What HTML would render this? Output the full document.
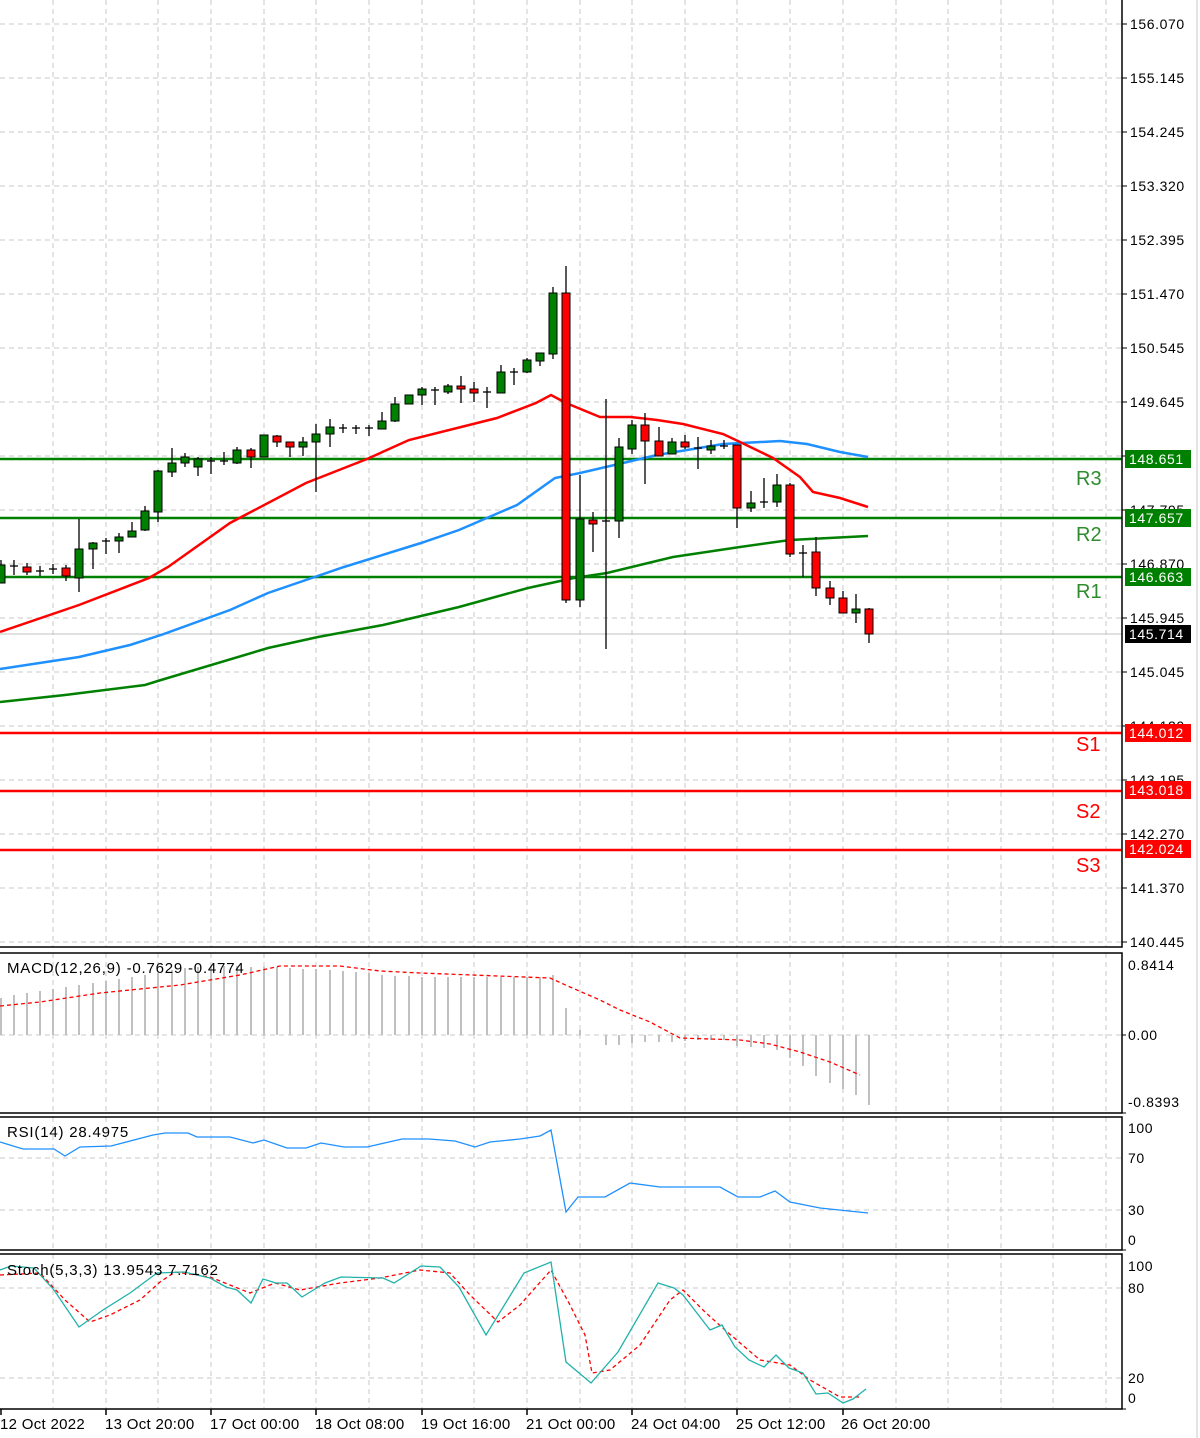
<!DOCTYPE html>
<html><head><meta charset="utf-8"><style>
html,body{margin:0;padding:0;background:#fff;}
svg{display:block;}
text{font-family:"Liberation Sans",sans-serif;font-size:14px;letter-spacing:0.6px;fill:#000;}
.g{stroke:#c8c8c8;stroke-width:1;stroke-dasharray:5,4;fill:none}
.w{stroke:#000;stroke-width:1.3}
.up{fill:#008000;stroke:#000;stroke-width:1}
.dn{fill:#ff0000;stroke:#000;stroke-width:1}
</style></head><body>
<svg width="1200" height="1438" viewBox="0 0 1200 1438" xmlns="http://www.w3.org/2000/svg">
<rect width="1200" height="1438" fill="#fff"/>
<g class="g">
<path d="M53,0V947M106,0V947M158,0V947M211,0V947M264,0V947M316,0V947M369,0V947M422,0V947M474,0V947M527,0V947M580,0V947M632,0V947M685,0V947M737,0V947M790,0V947M843,0V947M896,0V947M948,0V947M1001,0V947M1053,0V947M1106,0V947"/>
<path d="M53,953V1113M106,953V1113M158,953V1113M211,953V1113M264,953V1113M316,953V1113M369,953V1113M422,953V1113M474,953V1113M527,953V1113M580,953V1113M632,953V1113M685,953V1113M737,953V1113M790,953V1113M843,953V1113M896,953V1113M948,953V1113M1001,953V1113M1053,953V1113M1106,953V1113"/>
<path d="M53,1117V1250M106,1117V1250M158,1117V1250M211,1117V1250M264,1117V1250M316,1117V1250M369,1117V1250M422,1117V1250M474,1117V1250M527,1117V1250M580,1117V1250M632,1117V1250M685,1117V1250M737,1117V1250M790,1117V1250M843,1117V1250M896,1117V1250M948,1117V1250M1001,1117V1250M1053,1117V1250M1106,1117V1250"/>
<path d="M53,1254V1408M106,1254V1408M158,1254V1408M211,1254V1408M264,1254V1408M316,1254V1408M369,1254V1408M422,1254V1408M474,1254V1408M527,1254V1408M580,1254V1408M632,1254V1408M685,1254V1408M737,1254V1408M790,1254V1408M843,1254V1408M896,1254V1408M948,1254V1408M1001,1254V1408M1053,1254V1408M1106,1254V1408"/>
<path d="M0,24H1122M0,78H1122M0,132H1122M0,186H1122M0,240H1122M0,294H1122M0,348H1122M0,402H1122M0,456H1122M0,510H1122M0,564H1122M0,618H1122M0,672H1122M0,726H1122M0,780H1122M0,834H1122M0,888H1122M0,942H1122"/>
<path d="M0,1035H1122M0,1158H1122M0,1210H1122M0,1288H1122M0,1378H1122"/>
</g>
<line x1="0" y1="634" x2="1122" y2="634" stroke="#c0c0c0" stroke-width="1"/>
<g stroke-width="2.5">
<line x1="0" y1="459" x2="1122" y2="459" stroke="#008000"/>
<line x1="0" y1="518" x2="1122" y2="518" stroke="#008000"/>
<line x1="0" y1="577" x2="1122" y2="577" stroke="#008000"/>
<line x1="0" y1="733" x2="1122" y2="733" stroke="#ff0000"/>
<line x1="0" y1="791" x2="1122" y2="791" stroke="#ff0000"/>
<line x1="0" y1="850" x2="1122" y2="850" stroke="#ff0000"/>
</g>
<text x="1076" y="485" style="fill:#2e8b2e;font-size:20px;letter-spacing:0">R3</text>
<text x="1076" y="541" style="fill:#2e8b2e;font-size:20px;letter-spacing:0">R2</text>
<text x="1076" y="598" style="fill:#2e8b2e;font-size:20px;letter-spacing:0">R1</text>
<text x="1076" y="751" style="fill:#ff0000;font-size:20px;letter-spacing:0">S1</text>
<text x="1076" y="818" style="fill:#ff0000;font-size:20px;letter-spacing:0">S2</text>
<text x="1076" y="872" style="fill:#ff0000;font-size:20px;letter-spacing:0">S3</text>
<polyline fill="none" stroke="#008000" stroke-width="2.5" points="0,702 65,695 145,685 161,680 268,648 318,637 383,625 459,607 528,588 574,578 607,573 673,557 740,547 790,540 868,536"/>
<polyline fill="none" stroke="#1e90ff" stroke-width="2.5" points="0,669 79,657 130,645 161,635 230,610 268,593 344,567 421,543 459,530 517,505 555,478 580,473 623,463 657,455 723,444 780,441 807,444 840,452 868,457"/>
<polyline fill="none" stroke="#ff0000" stroke-width="2.5" points="0,632 79,605 149,578 168,567 230,523 306,483 367,459 409,440 497,418 536,403 551,395 566,403 600,417 631,417 657,420 683,424 723,434 740,442 773,458 800,477 813,492 840,498 868,507"/>
<g>
<line class="w" x1="1" y1="560" x2="1" y2="583"/><rect class="up" x="-3" y="565" width="8" height="18"/>
<line class="w" x1="14" y1="560" x2="14" y2="575"/><line class="w" x1="10" y1="566" x2="18" y2="566"/>
<line class="w" x1="27" y1="563" x2="27" y2="575"/><rect class="dn" x="23" y="567" width="8" height="5"/>
<line class="w" x1="40" y1="566" x2="40" y2="576"/><line class="w" x1="36" y1="571" x2="44" y2="571"/>
<line class="w" x1="53" y1="564" x2="53" y2="574"/><line class="w" x1="49" y1="569" x2="57" y2="569"/>
<line class="w" x1="66" y1="565" x2="66" y2="581"/><rect class="dn" x="62" y="568" width="8" height="8"/>
<line class="w" x1="79" y1="519" x2="79" y2="592"/><rect class="up" x="75" y="549" width="8" height="29"/>
<line class="w" x1="93" y1="542" x2="93" y2="569"/><rect class="up" x="89" y="543" width="8" height="6"/>
<line class="w" x1="106" y1="538" x2="106" y2="554"/><line class="w" x1="102" y1="541" x2="110" y2="541"/>
<line class="w" x1="119" y1="533" x2="119" y2="553"/><rect class="up" x="115" y="537" width="8" height="4"/>
<line class="w" x1="132" y1="522" x2="132" y2="537"/><rect class="up" x="128" y="531" width="8" height="6"/>
<line class="w" x1="145" y1="506" x2="145" y2="531"/><rect class="up" x="141" y="511" width="8" height="19"/>
<line class="w" x1="158" y1="470" x2="158" y2="522"/><rect class="up" x="154" y="471" width="8" height="41"/>
<line class="w" x1="172" y1="448" x2="172" y2="477"/><rect class="up" x="168" y="463" width="8" height="9"/>
<line class="w" x1="185" y1="453" x2="185" y2="467"/><rect class="up" x="181" y="457" width="8" height="6"/>
<line class="w" x1="198" y1="457" x2="198" y2="476"/><rect class="up" x="194" y="459" width="8" height="8"/>
<line class="w" x1="211" y1="457" x2="211" y2="474"/><line class="w" x1="207" y1="461" x2="215" y2="461"/>
<line class="w" x1="224" y1="452" x2="224" y2="465"/><line class="w" x1="220" y1="461" x2="228" y2="461"/>
<line class="w" x1="237" y1="447" x2="237" y2="464"/><rect class="up" x="233" y="450" width="8" height="13"/>
<line class="w" x1="251" y1="448" x2="251" y2="468"/><rect class="dn" x="247" y="450" width="8" height="7"/>
<line class="w" x1="264" y1="435" x2="264" y2="457"/><rect class="up" x="260" y="435" width="8" height="22"/>
<line class="w" x1="277" y1="435" x2="277" y2="447"/><rect class="dn" x="273" y="436" width="8" height="6"/>
<line class="w" x1="290" y1="442" x2="290" y2="457"/><rect class="dn" x="286" y="442" width="8" height="5"/>
<line class="w" x1="303" y1="437" x2="303" y2="456"/><rect class="up" x="299" y="442" width="8" height="5"/>
<line class="w" x1="316" y1="424" x2="316" y2="492"/><rect class="up" x="312" y="434" width="8" height="8"/>
<line class="w" x1="330" y1="419" x2="330" y2="447"/><rect class="up" x="326" y="427" width="8" height="7"/>
<line class="w" x1="343" y1="424" x2="343" y2="433"/><line class="w" x1="339" y1="428" x2="347" y2="428"/>
<line class="w" x1="356" y1="425" x2="356" y2="434"/><line class="w" x1="352" y1="428" x2="360" y2="428"/>
<line class="w" x1="369" y1="425" x2="369" y2="436"/><line class="w" x1="365" y1="428" x2="373" y2="428"/>
<line class="w" x1="382" y1="412" x2="382" y2="429"/><rect class="up" x="378" y="421" width="8" height="8"/>
<line class="w" x1="395" y1="397" x2="395" y2="422"/><rect class="up" x="391" y="404" width="8" height="17"/>
<line class="w" x1="409" y1="395" x2="409" y2="404"/><rect class="up" x="405" y="395" width="8" height="9"/>
<line class="w" x1="422" y1="387" x2="422" y2="405"/><rect class="up" x="418" y="389" width="8" height="6"/>
<line class="w" x1="435" y1="387" x2="435" y2="405"/><line class="w" x1="431" y1="390" x2="439" y2="390"/>
<line class="w" x1="448" y1="384" x2="448" y2="394"/><rect class="up" x="444" y="386" width="8" height="6"/>
<line class="w" x1="461" y1="376" x2="461" y2="403"/><rect class="dn" x="457" y="386" width="8" height="3"/>
<line class="w" x1="474" y1="382" x2="474" y2="402"/><rect class="dn" x="470" y="389" width="8" height="4"/>
<line class="w" x1="487" y1="387" x2="487" y2="408"/><line class="w" x1="483" y1="392" x2="491" y2="392"/>
<line class="w" x1="501" y1="365" x2="501" y2="393"/><rect class="up" x="497" y="372" width="8" height="21"/>
<line class="w" x1="514" y1="368" x2="514" y2="385"/><line class="w" x1="510" y1="372" x2="518" y2="372"/>
<line class="w" x1="527" y1="358" x2="527" y2="373"/><rect class="up" x="523" y="360" width="8" height="12"/>
<line class="w" x1="540" y1="353" x2="540" y2="366"/><rect class="up" x="536" y="353" width="8" height="8"/>
<line class="w" x1="553" y1="287" x2="553" y2="359"/><rect class="up" x="549" y="293" width="8" height="61"/>
<line class="w" x1="566" y1="266" x2="566" y2="603"/><rect class="dn" x="562" y="293" width="8" height="307"/>
<line class="w" x1="580" y1="475" x2="580" y2="607"/><rect class="up" x="576" y="519" width="8" height="81"/>
<line class="w" x1="593" y1="512" x2="593" y2="552"/><rect class="dn" x="589" y="520" width="8" height="4"/>
<line class="w" x1="606" y1="399" x2="606" y2="649"/><line class="w" x1="602" y1="521" x2="610" y2="521"/>
<line class="w" x1="619" y1="438" x2="619" y2="538"/><rect class="up" x="615" y="447" width="8" height="74"/>
<line class="w" x1="632" y1="420" x2="632" y2="454"/><rect class="up" x="628" y="425" width="8" height="24"/>
<line class="w" x1="645" y1="413" x2="645" y2="484"/><rect class="dn" x="641" y="425" width="8" height="16"/>
<line class="w" x1="659" y1="427" x2="659" y2="456"/><rect class="dn" x="655" y="441" width="8" height="15"/>
<line class="w" x1="672" y1="438" x2="672" y2="454"/><rect class="up" x="668" y="442" width="8" height="12"/>
<line class="w" x1="685" y1="435" x2="685" y2="449"/><rect class="dn" x="681" y="442" width="8" height="5"/>
<line class="w" x1="698" y1="437" x2="698" y2="469"/><line class="w" x1="694" y1="448" x2="702" y2="448"/>
<line class="w" x1="711" y1="440" x2="711" y2="454"/><rect class="up" x="707" y="446" width="8" height="4"/>
<line class="w" x1="724" y1="440" x2="724" y2="449"/><line class="w" x1="720" y1="446" x2="728" y2="446"/>
<line class="w" x1="737" y1="445" x2="737" y2="528"/><rect class="dn" x="733" y="445" width="8" height="63"/>
<line class="w" x1="751" y1="491" x2="751" y2="512"/><rect class="up" x="747" y="503" width="8" height="5"/>
<line class="w" x1="764" y1="478" x2="764" y2="508"/><line class="w" x1="760" y1="502" x2="768" y2="502"/>
<line class="w" x1="777" y1="474" x2="777" y2="507"/><rect class="up" x="773" y="485" width="8" height="17"/>
<line class="w" x1="790" y1="483" x2="790" y2="557"/><rect class="dn" x="786" y="485" width="8" height="69"/>
<line class="w" x1="803" y1="545" x2="803" y2="577"/><line class="w" x1="799" y1="553" x2="807" y2="553"/>
<line class="w" x1="816" y1="537" x2="816" y2="596"/><rect class="dn" x="812" y="552" width="8" height="36"/>
<line class="w" x1="830" y1="581" x2="830" y2="605"/><rect class="dn" x="826" y="588" width="8" height="10"/>
<line class="w" x1="843" y1="591" x2="843" y2="613"/><rect class="dn" x="839" y="598" width="8" height="15"/>
<line class="w" x1="856" y1="594" x2="856" y2="623"/><rect class="up" x="852" y="609" width="8" height="4"/>
<line class="w" x1="869" y1="608" x2="869" y2="643"/><rect class="dn" x="865" y="609" width="8" height="25"/>
</g>
<g stroke="#c0c0c0" stroke-width="2">
<path d="M1,1035V998M14,1035V995M27,1035V993M40,1035V991M53,1035V989M66,1035V987M79,1035V985M93,1035V983M106,1035V981M119,1035V979M132,1035V977M145,1035V975M158,1035V973M172,1035V970M185,1035V968M198,1035V967M211,1035V966M224,1035V966M237,1035V966M251,1035V967M264,1035V967M277,1035V967M290,1035V968M303,1035V969M316,1035V969M330,1035V970M343,1035V971M356,1035V972M369,1035V973M382,1035V975M395,1035V976M409,1035V976M422,1035V977M435,1035V977M448,1035V977M461,1035V977M474,1035V977M487,1035V977M501,1035V977M514,1035V977M527,1035V977M540,1035V977M553,1035V975M566,1035V1008M580,1035V1030"/>
<path d="M606,1035V1045M619,1035V1045M632,1035V1043M645,1035V1042M659,1035V1042M672,1035V1042M685,1035V1041M698,1035V1040M711,1035V1040M724,1035V1040M737,1035V1046M751,1035V1047M764,1035V1048M777,1035V1050M790,1035V1058M803,1035V1066M816,1035V1076M830,1035V1083M843,1035V1089M856,1035V1095M869,1035V1105"/>
</g>
<polyline fill="none" stroke="#ff0000" stroke-width="1.3" stroke-dasharray="4,3" points="0,1006 40,1002 100,993 180,985 240,975 280,966 340,966 380,971 420,973 550,978 570,987 600,1000 620,1010 650,1022 680,1038 740,1040 770,1044 800,1052 830,1062 860,1075"/>
<polyline fill="none" stroke="#1e90ff" stroke-width="1.3" points="0,1142 23,1149 54,1149 65,1156 80,1147 111,1146 153,1135 165,1133 188,1133 197,1137 230,1137 253,1143 264,1140 287,1148 306,1148 321,1143 344,1147 367,1147 402,1139 429,1139 455,1141 475,1147 490,1142 520,1139 540,1136 551,1130 566,1212 578,1197 605,1197 630,1183 660,1187 720,1187 738,1197 760,1197 775,1191 790,1202 820,1208 868,1213"/>
<polyline fill="none" stroke="#ff0000" stroke-width="1.3" stroke-dasharray="4,3" points="0,1275 40,1273 65,1300 90,1322 110,1315 140,1300 160,1282 175,1272 210,1277 250,1293 275,1283 300,1290 340,1283 380,1278 420,1270 450,1273 470,1295 498,1322 520,1305 551,1270 570,1305 585,1335 592,1373 610,1370 640,1345 670,1300 683,1290 705,1312 725,1330 760,1360 790,1365 810,1380 840,1397 860,1397"/>
<polyline fill="none" stroke="#20b2aa" stroke-width="1.3" points="0,1270 11,1266 34,1268 54,1290 79,1327 103,1310 130,1293 157,1273 184,1272 210,1278 226,1287 237,1290 251,1303 263,1279 276,1283 287,1283 302,1297 325,1283 341,1277 383,1278 394,1283 421,1266 440,1267 459,1287 486,1335 524,1273 551,1262 566,1362 591,1383 618,1352 658,1283 674,1288 683,1295 710,1330 722,1325 735,1347 749,1360 764,1367 776,1355 789,1368 803,1373 816,1394 828,1393 843,1403 853,1399 866,1389"/>
<g fill="none" stroke="#000" stroke-width="1.5">
<path d="M0,947H1122V0"/>
<path d="M0,953H1122V1113H0"/>
<path d="M0,1117H1122V1250H0"/>
<path d="M0,1254H1122V1409H0"/>
</g>
<line x1="1197" y1="0" x2="1197" y2="1438" stroke="#c8c8c8" stroke-width="1"/>
<path d="M1122,24h5M1122,78h5M1122,132h5M1122,186h5M1122,240h5M1122,294h5M1122,348h5M1122,402h5M1122,456h5M1122,510h5M1122,564h5M1122,618h5M1122,672h5M1122,726h5M1122,780h5M1122,834h5M1122,888h5M1122,942h5M1122,1035h4M1122,1113h4M1122,1250h4M1122,1409h4" stroke="#000" stroke-width="1"/>
<g>
<text x="1130" y="29">156.070</text>
<text x="1130" y="83">155.145</text>
<text x="1130" y="137">154.245</text>
<text x="1130" y="191">153.320</text>
<text x="1130" y="245">152.395</text>
<text x="1130" y="299">151.470</text>
<text x="1130" y="353">150.545</text>
<text x="1130" y="407">149.645</text>
<text x="1130" y="515">147.795</text>
<text x="1130" y="569">146.870</text>
<text x="1130" y="623">145.945</text>
<text x="1130" y="677">145.045</text>
<text x="1130" y="731">144.120</text>
<text x="1130" y="785">143.195</text>
<text x="1130" y="839">142.270</text>
<text x="1130" y="893">141.370</text>
<text x="1130" y="947">140.445</text>
</g>
<g>
<rect x="1125" y="450" width="66" height="18" fill="#008000"/><text x="1129" y="464" style="fill:#fff">148.651</text>
<rect x="1125" y="509" width="66" height="18" fill="#008000"/><text x="1129" y="523" style="fill:#fff">147.657</text>
<rect x="1125" y="568" width="66" height="18" fill="#008000"/><text x="1129" y="582" style="fill:#fff">146.663</text>
<rect x="1125" y="625" width="66" height="18" fill="#000"/><text x="1129" y="639" style="fill:#fff">145.714</text>
<rect x="1125" y="724" width="66" height="18" fill="#ff0000"/><text x="1129" y="738" style="fill:#fff">144.012</text>
<rect x="1125" y="781" width="66" height="18" fill="#ff0000"/><text x="1129" y="795" style="fill:#fff">143.018</text>
<rect x="1125" y="840" width="66" height="18" fill="#ff0000"/><text x="1129" y="854" style="fill:#fff">142.024</text>
</g>
<text x="1128" y="970">0.8414</text>
<text x="1128" y="1040">0.00</text>
<text x="1128" y="1107">-0.8393</text>
<text x="1128" y="1133">100</text>
<text x="1128" y="1163">70</text>
<text x="1128" y="1215">30</text>
<text x="1128" y="1245">0</text>
<text x="1128" y="1271">100</text>
<text x="1128" y="1293">80</text>
<text x="1128" y="1383">20</text>
<text x="1128" y="1403">0</text>
<text x="7" y="973" style="font-size:15px;letter-spacing:0.8px">MACD(12,26,9) -0.7629 -0.4774</text>
<text x="7" y="1137" style="font-size:15px;letter-spacing:0.8px">RSI(14) 28.4975</text>
<text x="7" y="1275" style="font-size:15px;letter-spacing:0.8px">Stoch(5,3,3) 13.9543 7.7162</text>
<path d="M1,1409v6M106,1409v6M211,1409v6M316,1409v6M422,1409v6M527,1409v6M632,1409v6M737,1409v6M843,1409v6" stroke="#000" stroke-width="1.5"/>
<text x="0" y="1429" style="font-size:15px;letter-spacing:0.3px">12 Oct 2022</text>
<text x="105" y="1429" style="font-size:15px;letter-spacing:0.3px">13 Oct 20:00</text>
<text x="210" y="1429" style="font-size:15px;letter-spacing:0.3px">17 Oct 00:00</text>
<text x="315" y="1429" style="font-size:15px;letter-spacing:0.3px">18 Oct 08:00</text>
<text x="421" y="1429" style="font-size:15px;letter-spacing:0.3px">19 Oct 16:00</text>
<text x="526" y="1429" style="font-size:15px;letter-spacing:0.3px">21 Oct 00:00</text>
<text x="631" y="1429" style="font-size:15px;letter-spacing:0.3px">24 Oct 04:00</text>
<text x="736" y="1429" style="font-size:15px;letter-spacing:0.3px">25 Oct 12:00</text>
<text x="841" y="1429" style="font-size:15px;letter-spacing:0.3px">26 Oct 20:00</text>
</svg>
</body></html>
